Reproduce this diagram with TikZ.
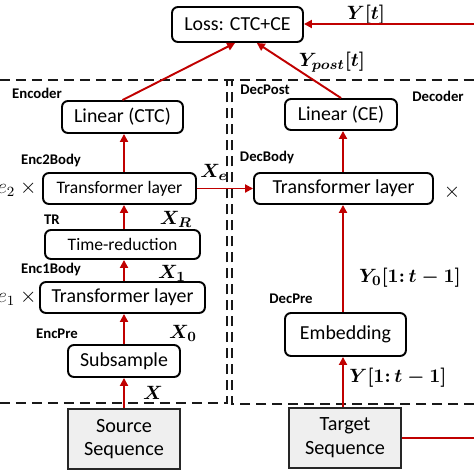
\documentclass[tikz,border=0pt]{standalone}
\usepackage{fontspec}
\setmainfont{Carlito}
\usepackage{amsmath,bm}
\usetikzlibrary{arrows.meta}
\definecolor{arrred}{RGB}{192,0,0}
\definecolor{srcgray}{RGB}{239,239,239}
\begin{document}
\begin{tikzpicture}[x=0.02cm,y=-0.02cm,
  bx/.style n args={2}{draw=black, line width=1.1pt, rounded corners=3.4pt, inner sep=0pt,
     minimum width=#1*0.02cm, minimum height=#2*0.02cm, font=\fontsize{11.3}{13}\selectfont, align=center},
  srcbox/.style n args={2}{draw=black!85, line width=1.4pt, fill=srcgray, inner sep=0pt,
     minimum width=#1*0.02cm, minimum height=#2*0.02cm, font=\fontsize{11.5}{13.5}\selectfont, align=center},
  smallfont/.style={font=\fontsize{10}{12}\selectfont},
  tag/.style={font=\bfseries\fontsize{8.4}{10}\selectfont, inner sep=0pt},
  mlab/.style={font=\fontsize{11}{13}\selectfont\boldmath, inner sep=0pt},
  arr/.style={draw=arrred, line width=1.1pt, -{Triangle[length=4.5pt,width=4.5pt]}},
  plain/.style={draw=arrred, line width=1.1pt},
  dsh/.style={draw=black!90, line width=1.4pt, dash pattern=on 5.7pt off 3.4pt}]
\useasboundingbox (0,0) rectangle (474,474);
% dashed frames
\draw[dsh] (0,80) -- (474,80);
\draw[dsh] (0,403) -- (227,403) -- (227,80);
\draw[dsh] (474,404) -- (232,404) -- (232,81);
% nodes
\node[bx={131}{35}] (loss) at (237.5,24.5) {Loss: CTC+CE};
\node[bx={121}{32}] (lctc) at (122.5,117) {Linear (CTC)};
\node[bx={112}{31}] (lce) at (341,114.5) {Linear (CE)};
\node[bx={153}{31}, smallfont] (enc2) at (119.5,188.5) {Transformer layer};
\node[bx={155}{29}, smallfont] (tr) at (122.5,244.5) {Time-reduction};
\node[bx={165}{31}] (enc1) at (122.5,297.5) {Transformer layer};
\node[bx={112}{32}] (sub) at (124,361) {Subsample};
\node[srcbox={112}{60}] (src) at (124,439) {Source\\Sequence};
\node[bx={179}{31}] (dec) at (343.5,188.5) {Transformer layer};
\node[bx={121}{43}] (emb) at (345.5,334.5) {Embedding};
\node[srcbox={112}{60}] (tgt) at (345,438) {Target\\Sequence};
\coordinate (ax) at (124,0);
\coordinate (dx) at (343,0);
\coordinate (ytin) at (474,24);
\coordinate (tout) at (474,438);
% tags
\node[tag] (tEnc) at (37,93) {Encoder};
\node[tag] (tDec) at (438,96) {Decoder};
\node[tag] (tDecPost) at (265,90) {DecPost};
\node[tag] (tEnc2) at (51,160) {Enc2Body};
\node[tag] (tTR) at (52,220) {TR};
\node[tag] (tEnc1) at (51,269) {Enc1Body};
\node[tag] (tEncPre) at (57,334) {EncPre};
\node[tag] (tDecBody) at (267,157) {DecBody};
\node[tag] (tDecPre) at (291,299) {DecPre};
% math labels
\node[mlab] (lYt) at (366,15) {$Y[t]$};
\node[mlab] (lYpost) at (332,62) {$Y_{post}[t]$};
\node[mlab] (lXe) at (214,172) {$X_e$};
\node[mlab] (lXR) at (176,219) {$X_R$};
\node[mlab] (lX1) at (172,273) {$X_1$};
\node[mlab] (lX0) at (183,333) {$X_0$};
\node[mlab] (lX) at (153,393) {$X$};
\node[mlab] (lY0) at (410,278) {$Y_0[1{:}\,t-1]$};
\node[mlab] (lY) at (398,378) {$Y[1{:}\,t-1]$};
\node[font=\fontsize{12}{14}\selectfont, inner sep=0pt, anchor=west] (ne2) at (-3,189) {$e_2\ \times$};
\node[font=\fontsize{12}{14}\selectfont, inner sep=0pt, anchor=west] (ne1) at (-3,298) {$e_1\ \times$};
\node[font=\fontsize{12}{14}\selectfont, inner sep=0pt] (nd) at (452,192) {$\times$};
% connectors
\draw[arr] (ytin) -- (loss.east |- ytin);
\draw[arr] (lctc.north) -- ([xshift=-1.4pt]loss.south);
\draw[arr] (lce.north) -- ([xshift=11pt]loss.south);
\draw[arr] (enc2.north -| ax) -- (lctc.south -| ax);
\draw[arr] (tr.north -| ax) -- (enc2.south -| ax);
\draw[arr] (enc1.north -| ax) -- (tr.south -| ax);
\draw[arr] (sub.north -| ax) -- (enc1.south -| ax);
\draw[arr] (src.north -| ax) -- (sub.south -| ax);
\draw[arr] (enc2.east) -- (dec.west);
\draw[arr] (dec.north -| dx) -- (lce.south -| dx);
\draw[arr] (emb.north -| dx) -- (dec.south -| dx);
\draw[arr] (tgt.north -| dx) -- (emb.south -| dx);
\draw[plain] (tgt.east) -- (tout);
\end{tikzpicture}
\end{document}
